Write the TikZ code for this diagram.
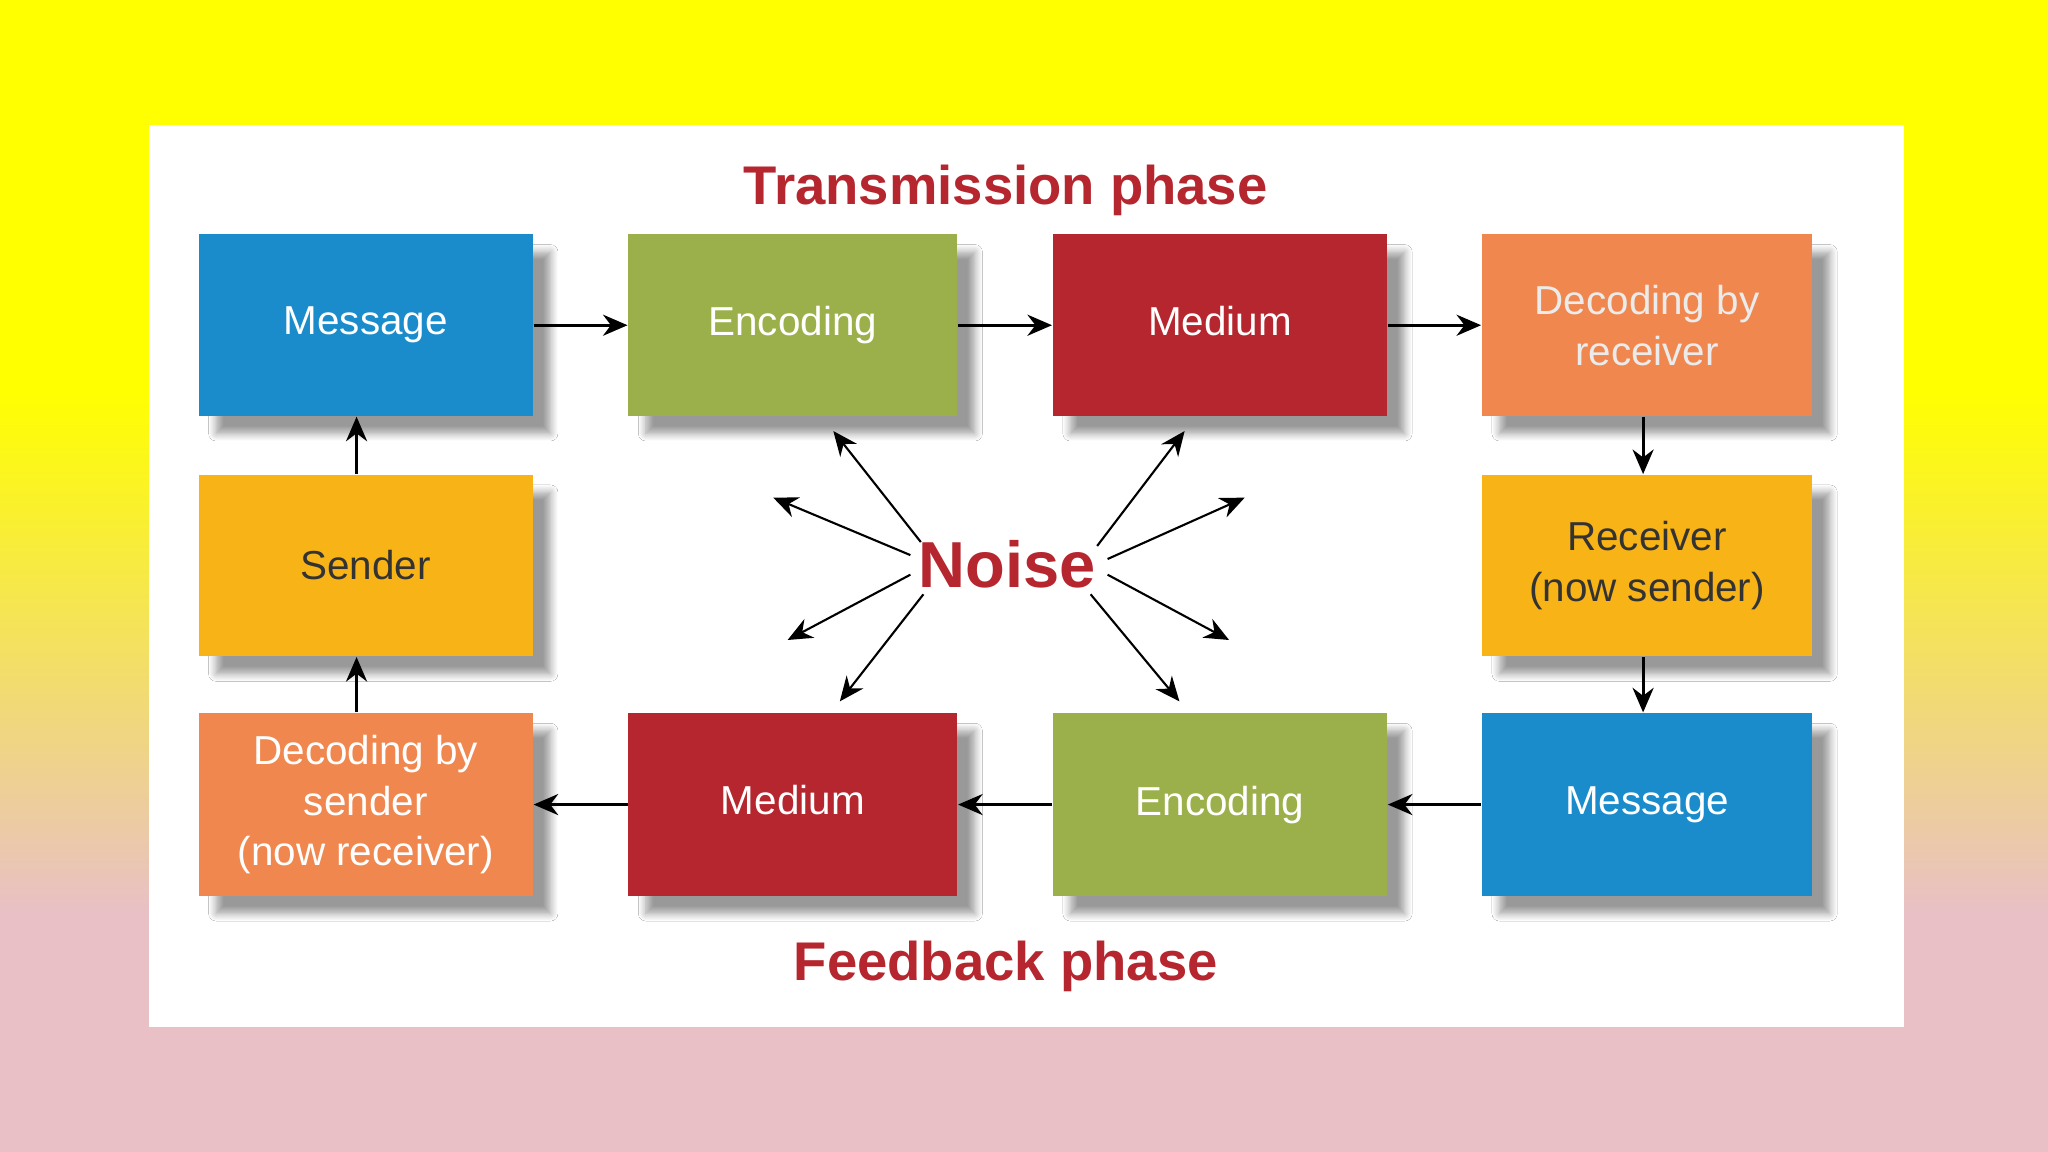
\documentclass[tikz,border=0pt]{standalone}
\usepackage{fontspec}
\setmainfont{Liberation Sans}
\usetikzlibrary{arrows.meta,shadows.blur,positioning}
\definecolor{msgblue}{HTML}{1A8CCC}
\definecolor{encgreen}{HTML}{9BB04A}
\definecolor{medred}{HTML}{B5262E}
\definecolor{decorange}{HTML}{F0874F}
\definecolor{sndyellow}{HTML}{F8B416}
\definecolor{bgyellow}{HTML}{FFFF00}
\definecolor{bgpink}{HTML}{E8C0C6}
\tikzset{
  box/.style={minimum width=3.344cm,minimum height=1.815cm,inner sep=0pt,align=center,
    font=\fontsize{11.5}{14.5}\selectfont,text=white,
    blur shadow={shadow xshift=5pt,shadow yshift=-5pt,shadow blur steps=8}},
  flow/.style={-{Stealth[length=7pt,width=6pt]},thick},
  title/.style={font=\bfseries\fontsize{15.5}{18}\selectfont,text=medred}
}
\begin{document}
\begin{tikzpicture}[x=0.013061cm,y=-0.013061cm]
  \useasboundingbox (0,0) rectangle (1568,882);
  % background
  \fill[bgyellow] (0,0) rectangle (1568,300);
  \shade[top color=bgyellow,bottom color=bgpink] (0,299) rectangle (1568,700);
  \fill[bgpink] (0,699) rectangle (1568,882);
  \fill[white] (114,96) rectangle (1458,786);

  % transmission row
  \node[box,fill=msgblue]   (msg1) at (280,249) {Message};
  \node[box,fill=encgreen,minimum width=3.291cm]  (enc1) at (607,249) {Encoding};
  \node[box,fill=medred]    (med1) at (934,249) {Medium\strut};
  \node[box,fill=decorange,minimum width=3.304cm,text=white!92!black] (dec1) at (1261,249) {Decoding by\\receiver};
  % middle row
  \node[box,fill=sndyellow,text=black!80] (snd) at (280,433) {Sender};
  \node[box,fill=sndyellow,minimum width=3.304cm,text=black!80] (rcv) at (1261,433) {Receiver\\(now sender)};
  % feedback row
  \node[box,fill=decorange,minimum height=1.829cm] (dec2) at (280,616) {Decoding by\\sender\\(now receiver)};
  \node[box,fill=medred,minimum width=3.291cm,minimum height=1.829cm] (med2) at (607,616) {Medium\strut};
  \node[box,fill=encgreen,minimum height=1.829cm] (enc2) at (934,616) {Encoding};
  \node[box,fill=msgblue,minimum width=3.304cm,minimum height=1.829cm] (msg2) at (1261,616) {Message};

  % titles
  \node[title] (ttl1) at (770,146) {Transmission phase};
  \node[title] (ttl2) at (770,740) {Feedback phase};

  % flow
  \coordinate (lft) at (273,0);
  \coordinate (rgt) at (1258,0);
  \draw[flow] (msg1) -- (enc1);
  \draw[flow] (enc1) -- (med1);
  \draw[flow] (med1) -- (dec1);
  \draw[flow] (dec1.south -| rgt) -- (rcv.north -| rgt);
  \draw[flow] (rcv.south -| rgt) -- (msg2.north -| rgt);
  \draw[flow] (msg2) -- (enc2);
  \draw[flow] (enc2) -- (med2);
  \draw[flow] (med2) -- (dec2);
  \draw[flow] (dec2.north -| lft) -- (snd.south -| lft);
  \draw[flow] (snd.north -| lft) -- (msg1.south -| lft);

  % noise
  \node[font=\bfseries\fontsize{18.5}{22}\selectfont,text=medred] (noise) at (771,432) {Noise};
  \foreach \name/\sx/\sy/\ex/\ey in {na/705/415/638/330, nb/697/425/592/381,
      nc/697/440/603/490, nd/707/455/643/537, ne/840/418/907/330,
      nf/848/428/953/381, ng/848/440/941/490, nh/835/455/903/537}{
    \coordinate (\name s) at (\sx,\sy);
    \coordinate (\name e) at (\ex,\ey);
    \draw[flow,semithick] (\name s) -- (\name e);
  }
\end{tikzpicture}
\end{document}
